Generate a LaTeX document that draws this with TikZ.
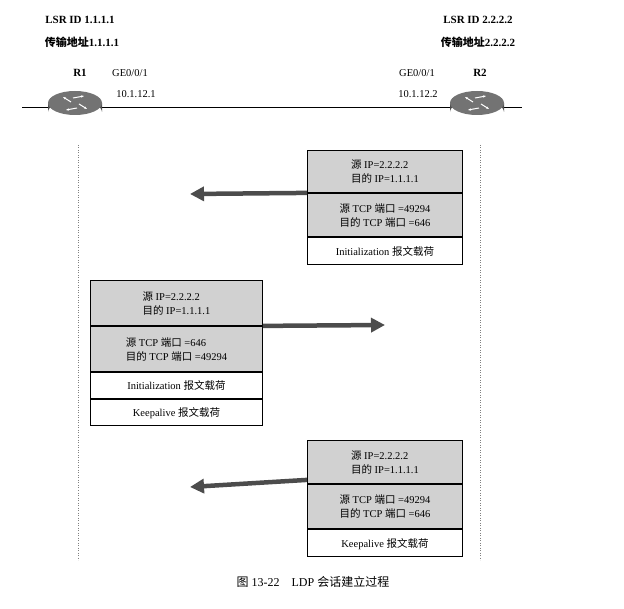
\documentclass[tikz,border=0pt]{standalone}
\usepackage{fontspec}
\setmainfont{Liberation Serif}
\newfontfamily\zh{Noto Sans CJK SC}
\usetikzlibrary{arrows.meta}
\definecolor{boxgray}{gray}{0.82}
\tikzset{
  lbl/.style={font=\fontsize{10.5}{13}\selectfont, inner sep=0pt},
  hdr/.style={font=\bfseries\fontsize{11}{13}\selectfont, inner sep=0pt},
  row/.style={draw, line width=0.9pt, align=left, anchor=north west, inner sep=3pt, font=\fontsize{10.5}{14}\selectfont, text depth=0pt},
  fat/.style={line width=4.5pt, draw=black!70, -{Triangle[length=14pt,width=14pt]}},
  guide/.style={dotted, gray, line width=0.5pt},
}
\newcommand{\router}[2]{%
  \begin{scope}[shift={(#1)}]
    \fill[black!70] (-27,-4) -- (-27,5) arc[start angle=180,end angle=360,x radius=27,y radius=12] -- (27,-4) -- cycle;
    \fill[black!55] (0,-4) ellipse[x radius=27,y radius=12];
    \draw[white, line width=1pt, -{Stealth[length=3pt]}] (-4,-5) -- (-12,-10);
    \draw[white, line width=1pt, -{Stealth[length=3pt]}] (4,-3) -- (12,2);
    \draw[white, line width=1pt, -{Stealth[length=3pt]}] (-2,-9) -- (9,-11);
    \draw[white, line width=1pt, -{Stealth[length=3pt]}] (2,1) -- (-9,3);
  \end{scope}
  \coordinate (#2) at (#1);}
\begin{document}
\begin{tikzpicture}[x=1pt,y=-1pt]
\useasboundingbox (0,0) rectangle (624,609);
\coordinate (L) at (22,107);
\coordinate (R) at (522,107);
\draw[line width=0.8pt] (L) -- (R);
\router{75,107}{r1}
\router{477,107}{r2}
\node[hdr] (h1) at (80,20) {LSR ID 1.1.1.1};
\node[hdr] (h2) at (82,42) {{\zh 传输地址}1.1.1.1};
\node[hdr] (h3) at (478,20) {LSR ID 2.2.2.2};
\node[hdr] (h4) at (478,42) {{\zh 传输地址}2.2.2.2};
\node[hdr] (n1) at (80,73) {R1};
\node[hdr] (n2) at (480,73) {R2};
\node[lbl] (g1) at (130,73) {GE0/0/1};
\node[lbl] (i1) at (136,94) {10.1.12.1};
\node[lbl] (g2) at (417,73) {GE0/0/1};
\node[lbl] (i2) at (418,94) {10.1.12.2};
\coordinate (d1a) at (78,145); \coordinate (d1b) at (78,560);
\coordinate (d2a) at (480,145); \coordinate (d2b) at (480,560);
\draw[guide] (d1a) -- (d1b);
\draw[guide] (d2a) -- (d2b);
% box 1
\node[row, fill=boxgray, minimum width=155pt, minimum height=42pt] (a1) at (307,150) {{\zh 源} IP=2.2.2.2\\{\zh 目的} IP=1.1.1.1};
\node[row, fill=boxgray, minimum width=155pt, minimum height=43pt] (a2) at (a1.south west) {{\zh 源} TCP {\zh 端口} =49294\\{\zh 目的} TCP {\zh 端口} =646};
\node[row, minimum width=155pt, minimum height=27pt] (a3) at (a2.south west) {Initialization {\zh 报文载荷}};
\coordinate (ae) at (190,194);
\draw[fat] (a1.south west) -- (ae);
% box 2
\node[row, fill=boxgray, minimum width=172pt, minimum height=45pt] (b1) at (90,280) {{\zh 源} IP=2.2.2.2\\{\zh 目的} IP=1.1.1.1};
\node[row, fill=boxgray, minimum width=172pt, minimum height=45pt] (b2) at (b1.south west) {{\zh 源} TCP {\zh 端口} =646\\{\zh 目的} TCP {\zh 端口} =49294};
\node[row, minimum width=172pt, minimum height=26pt] (b3) at (b2.south west) {Initialization {\zh 报文载荷}};
\node[row, minimum width=172pt, minimum height=26pt] (b4) at (b3.south west) {Keepalive {\zh 报文载荷}};
\coordinate (be) at (385,325);
\draw[fat] (b1.south east) -- (be);
% box 3
\node[row, fill=boxgray, minimum width=155pt, minimum height=43pt] (c1) at (307,440) {{\zh 源} IP=2.2.2.2\\{\zh 目的} IP=1.1.1.1};
\node[row, fill=boxgray, minimum width=155pt, minimum height=44pt] (c2) at (c1.south west) {{\zh 源} TCP {\zh 端口} =49294\\{\zh 目的} TCP {\zh 端口} =646};
\node[row, minimum width=155pt, minimum height=27pt] (c3) at (c2.south west) {Keepalive {\zh 报文载荷}};
\coordinate (ce) at (190,487);
\draw[fat] ([yshift=4pt]c1.south west) -- (ce);
\node[lbl, font=\fontsize{12}{14}\selectfont] (cap) at (313,582) {{\zh 图} 13-22\quad LDP {\zh 会话建立过程}};
\end{tikzpicture}
\end{document}
